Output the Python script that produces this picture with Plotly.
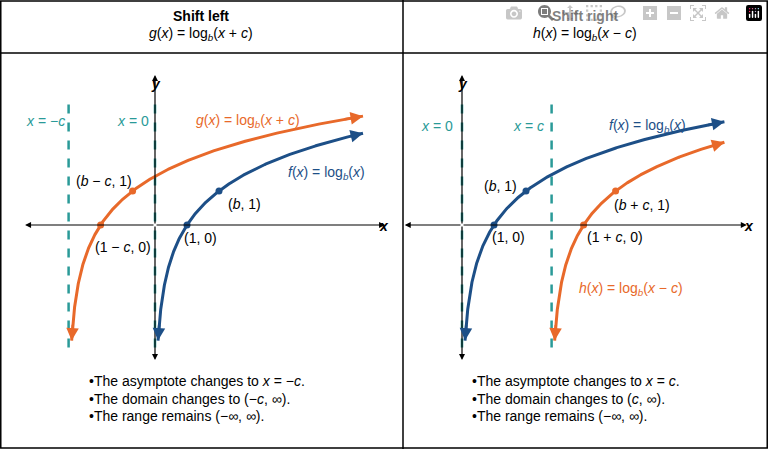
import numpy as np
import plotly.graph_objects as go

W, H = 768, 449
b = 2.0
c_left = 2.7
c_right = 2.8
ORANGE = "#E8692A"
BLUE = "#1D4F87"
TEAL = "#2A9A98"
FONT = "Liberation Sans, Arial, sans-serif"

titles = ["<b>Shift left</b>", "<b>Shift right</b>"]
formulas = ["<i>g</i>(<i>x</i>) = log<sub><i>b</i></sub>(<i>x</i> + <i>c</i>)",
            "<i>h</i>(<i>x</i>) = log<sub><i>b</i></sub>(<i>x</i> − <i>c</i>)"]
bullets_left = ["•The asymptote changes to <i>x</i> = −<i>c</i>.",
                "•The domain changes to (−<i>c</i>, ∞).",
                "•The range remains (−∞, ∞)."]
bullets_right = ["•The asymptote changes to <i>x</i> = <i>c</i>.",
                 "•The domain changes to (<i>c</i>, ∞).",
                 "•The range remains (−∞, ∞)."]

def P(px, py):
    return px / W, 1 - py / H

fig = go.Figure()
ann = []
shapes = []

def logb(x):
    return np.log(x) / np.log(b)

def curve(xa, ya, shift, xmax, color, ymin=-3.4):
    x0 = b ** ymin - shift
    xs = x0 + (xmax - x0) * np.linspace(0, 1, 600) ** 3
    ys = logb(xs + shift)
    fig.add_trace(go.Scatter(x=xs, y=ys, mode="lines", line=dict(color=color, width=3),
                             xaxis=xa, yaxis=ya, showlegend=False, hoverinfo="skip"))
    i_start = int(np.argmax(ys > ys[0] + 0.5))
    for i0, i1 in [(i_start, 0), (-15, -1)]:
        ann.append(dict(x=xs[i1], y=ys[i1], ax=xs[i0], ay=ys[i0], xref=xa, yref=ya,
                        axref=xa, ayref=ya, showarrow=True, arrowhead=2, arrowsize=1,
                        arrowwidth=2.5, arrowcolor=color, text=""))

def points(xa, ya, xs, ys, color):
    fig.add_trace(go.Scatter(x=xs, y=ys, mode="markers", marker=dict(color=color, size=7),
                             xaxis=xa, yaxis=ya, showlegend=False, hoverinfo="skip"))

def axes(xa, ya, xl, xr, yb, yt):
    for (x, y) in [(xl, 0), (xr, 0), (0, yb), (0, yt)]:
        ann.append(dict(x=x, y=y, ax=0, ay=0, xref=xa, yref=ya, axref=xa, ayref=ya,
                        showarrow=True, arrowhead=2, arrowwidth=1.2, arrowcolor="black", text=""))

def dashed(xa, ya, x):
    fig.add_trace(go.Scatter(x=[x, x], y=[-3.6, 3.55], mode="lines",
                             line=dict(color=TEAL, width=2.5, dash="dash"),
                             xaxis=xa, yaxis=ya, showlegend=False, hoverinfo="skip"))

# left panel
axes("x", "y", -4.06, 7.19, -3.97, 4.41)
dashed("x", "y", -c_left)
dashed("x", "y", 0)
curve("x", "y", c_left, 6.5, ORANGE)
curve("x", "y", 0, 6.5, BLUE)
points("x", "y", [1 - c_left, b - c_left], [0, 1], ORANGE)
points("x", "y", [1, b], [0, 1], BLUE)

# right panel
axes("x2", "y2", -1.79, 8.9, -3.97, 4.41)
dashed("x2", "y2", 0)
dashed("x2", "y2", c_right)
curve("x2", "y2", 0, 8.2, BLUE)
curve("x2", "y2", -c_right, 8.2, ORANGE)
points("x2", "y2", [1, b], [0, 1], BLUE)
points("x2", "y2", [1 + c_right, b + c_right], [0, 1], ORANGE)

def txt(px, py, s, color="black", size=14, xanchor="center"):
    x, y = P(px, py)
    ann.append(dict(x=x, y=y, xref="paper", yref="paper", text=s, showarrow=False,
                    font=dict(color=color, size=size, family=FONT), xanchor=xanchor, yanchor="middle"))

txt(201, 16, titles[0]); txt(201, 34, formulas[0])
txt(585, 16, titles[1]); txt(585, 34, formulas[1])
for i, s in enumerate(bullets_left):
    txt(87, 381 + 17.5 * i, s, xanchor="left")
for i, s in enumerate(bullets_right):
    txt(470, 381 + 17.5 * i, s, xanchor="left")

txt(45, 121, "<i>x</i> = −<i>c</i>", TEAL)
txt(133, 121, "<i>x</i> = 0", TEAL)
txt(248, 121, formulas[0], ORANGE)
txt(326, 173, "<i>f</i>(<i>x</i>) = log<sub><i>b</i></sub>(<i>x</i>)", BLUE)
txt(104, 181, "(<i>b</i> − <i>c</i>, 1)")
txt(244, 204, "(<i>b</i>, 1)")
txt(123, 247, "(1 − <i>c</i>, 0)")
txt(200, 238, "(1, 0)")
txt(384, 226, "<b><i>x</i></b>")
txt(156, 84, "<b><i>y</i></b>")

txt(437, 126, "<i>x</i> = 0", TEAL)
txt(528, 126, "<i>x</i> = <i>c</i>", TEAL)
txt(647, 126, "<i>f</i>(<i>x</i>) = log<sub><i>b</i></sub>(<i>x</i>)", BLUE)
txt(500, 186, "(<i>b</i>, 1)")
txt(508, 237, "(1, 0)")
txt(642, 205, "(<i>b</i> + <i>c</i>, 1)")
txt(615, 237, "(1 + <i>c</i>, 0)")
txt(631, 289, "<i>h</i>(<i>x</i>) = log<sub><i>b</i></sub>(<i>x</i> − <i>c</i>)", ORANGE)
txt(749, 226, "<b><i>x</i></b>")
txt(463, 84, "<b><i>y</i></b>")

# frame
shapes.append(dict(type="rect", xref="paper", yref="paper", x0=0.001, y0=0.002, x1=0.999, y1=0.998,
                   line=dict(color="black", width=1.5)))
shapes.append(dict(type="line", xref="paper", yref="paper", x0=403 / W, x1=403 / W, y0=0, y1=1,
                   line=dict(color="black", width=1.5)))
shapes.append(dict(type="line", xref="paper", yref="paper", x0=0, x1=1, y0=1 - 53 / H, y1=1 - 53 / H,
                   line=dict(color="black", width=1.5)))

ax_common = dict(visible=False, showgrid=False, zeroline=False)
yd = [0, 1 - 53 / H]
fig.update_layout(
    width=W, height=H, margin=dict(l=0, r=0, t=0, b=0),
    plot_bgcolor="white", paper_bgcolor="white",
    xaxis=dict(domain=[0, 403 / W], range=[-155 / 32, 248 / 32], **ax_common),
    yaxis=dict(domain=yd, range=[-(449 - 225) / 34, (225 - 53) / 34], **ax_common),
    xaxis2=dict(domain=[403 / W, 1], range=[(403 - 462) / 32, (768 - 462) / 32], **ax_common),
    yaxis2=dict(domain=yd, range=[-(449 - 225) / 34, (225 - 53) / 34], anchor="x2", **ax_common),
    annotations=ann, shapes=shapes, font=dict(family=FONT),
)
fig.write_html("out.html")
with open("out.html", encoding="utf-8") as f:
    html = f.read()
html = html.replace("<head>", "<head><style>html,body{margin:0;padding:0;overflow:hidden;}</style>", 1)
with open("out.html", "w", encoding="utf-8") as f:
    f.write(html)
